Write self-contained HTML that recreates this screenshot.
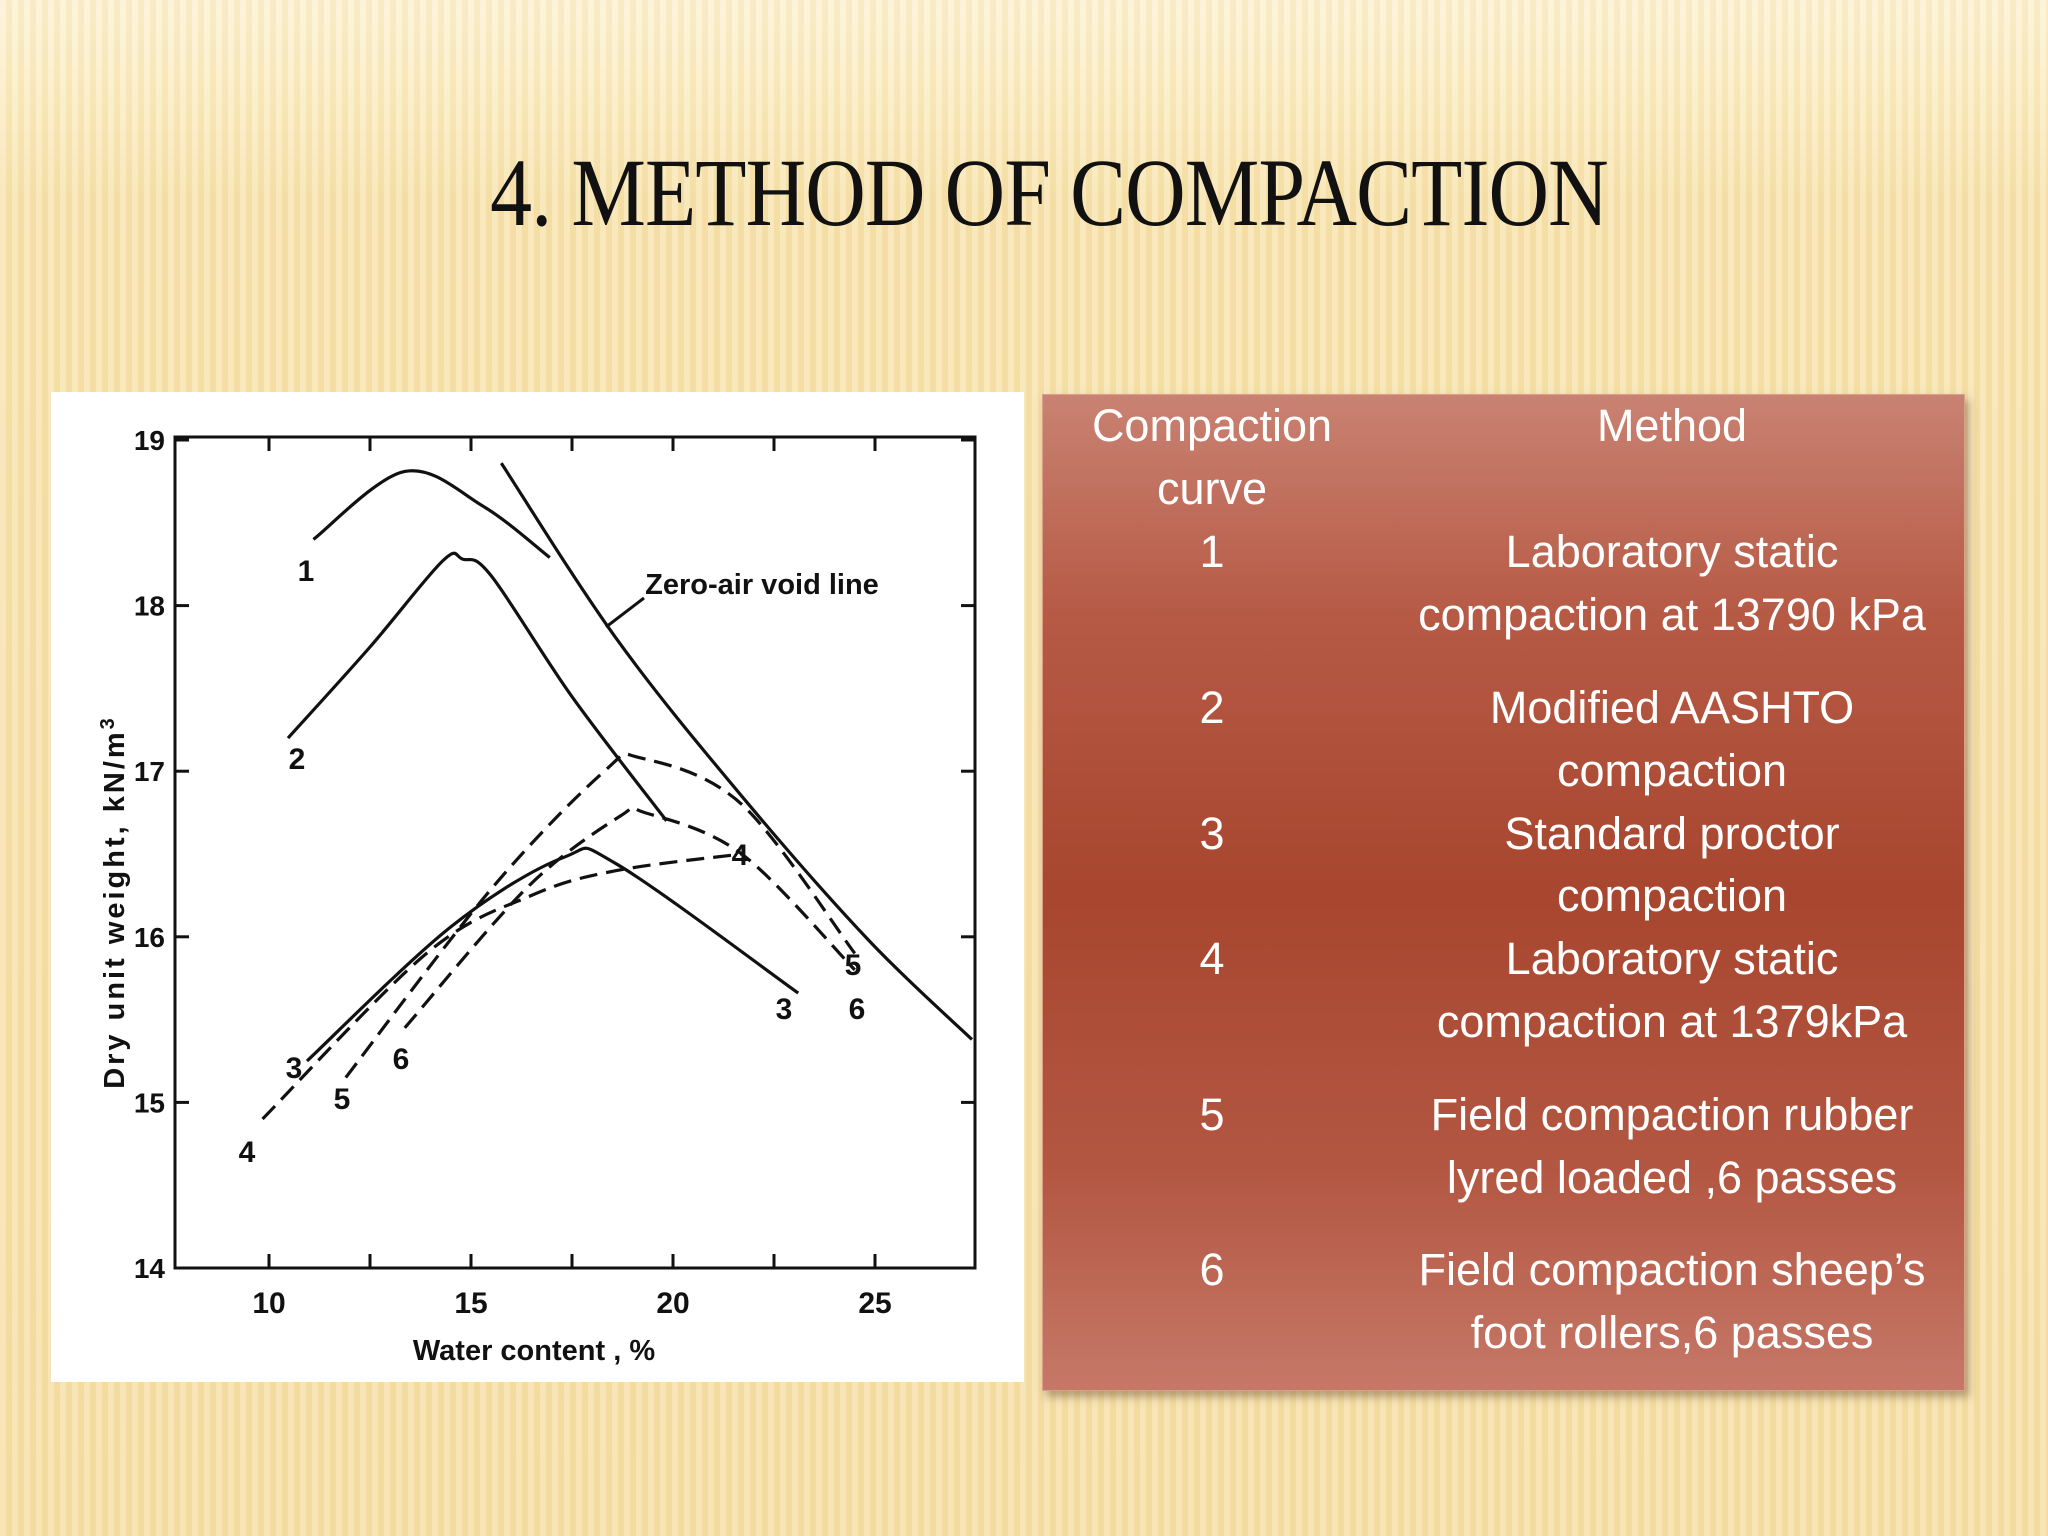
<!DOCTYPE html>
<html><head><meta charset="utf-8"><style>
html,body{margin:0;padding:0;}
body{width:2048px;height:1536px;position:relative;overflow:hidden;font-family:"Liberation Sans",sans-serif;
background:
 repeating-linear-gradient(90deg,rgba(255,255,255,0.18) 0 6px,rgba(220,180,90,0.10) 6px 12px),
 linear-gradient(180deg,#fcf1d2 0,#fbedc4 80px,#f7e3ae 200px,#f6dfa6 100%);}
#title{position:absolute;left:0;width:2098px;top:137px;text-align:center;font-family:"Liberation Serif",serif;font-size:96px;color:#111;transform:scaleX(0.873);transform-origin:1049px 0;letter-spacing:-1px;}
#panel{position:absolute;left:51px;top:392px;width:973px;height:990px;background:#fff;}
#table{position:absolute;left:1042px;top:394px;width:921px;height:995px;
background:linear-gradient(180deg,#c98272 0,#b65a45 22%,#a8462f 50%,#b35742 78%,#c67868 100%);
box-shadow:4px 6px 8px rgba(120,90,60,0.5);border:1px solid #d9a090;color:#fff;font-size:45px;}
#table div{position:absolute;text-align:center;transform:translate(-50%,-50%);white-space:nowrap;}
</style></head><body>
<div id="title">4. METHOD OF COMPACTION</div>
<div id="panel"></div>
<svg id="chart" width="2048" height="1536" style="position:absolute;left:0;top:0" font-family="Liberation Sans, sans-serif"></svg>
<div id="table">
<div style="left:169px;top:31px">Compaction</div>
<div style="left:169px;top:94px">curve</div>
<div style="left:629px;top:31px">Method</div>
<div style="left:169px;top:157px">1</div>
<div style="left:629px;top:157px">Laboratory static</div>
<div style="left:629px;top:220px">compaction at 13790 kPa</div>
<div style="left:169px;top:313px">2</div>
<div style="left:629px;top:313px">Modified AASHTO</div>
<div style="left:629px;top:376px">compaction</div>
<div style="left:169px;top:439px">3</div>
<div style="left:629px;top:439px">Standard proctor</div>
<div style="left:629px;top:501px">compaction</div>
<div style="left:169px;top:564px">4</div>
<div style="left:629px;top:564px">Laboratory static</div>
<div style="left:629px;top:627px">compaction at 1379kPa</div>
<div style="left:169px;top:720px">5</div>
<div style="left:629px;top:720px">Field compaction rubber</div>
<div style="left:629px;top:783px">lyred loaded ,6 passes</div>
<div style="left:169px;top:875px">6</div>
<div style="left:629px;top:875px">Field compaction sheep’s</div>
<div style="left:629px;top:938px">foot rollers,6 passes</div>
</div>
<script>
const xTicks=[10,15,20,25];
const yTicks=[14,15,16,17,18,19];
const curve1X=[11.1,13.36,15.3,16.95];
const curve1Y=[18.4,18.81,18.6,18.29];
const curve2X=[10.47,12.5,14.3,14.8,15.5,17.5,19.84];
const curve2Y=[17.2,17.75,18.27,18.28,18.18,17.45,16.7];
const zavX=[15.75,18.6,21.7,24.84,27.4];
const zavY=[18.86,17.8,16.85,15.98,15.38];
const curve3X=[10.94,14.5,17.3,18.6,23.1];
const curve3Y=[15.25,16.06,16.48,16.44,15.66];
const curve4X=[9.84,13.9,16.5,18.6,21.7];
const curve4Y=[14.9,15.9,16.25,16.4,16.5];
const curve5X=[11.9,15.47,18.3,19.2,21.7,24.5];
const curve5Y=[15.15,16.28,17.0,17.08,16.8,15.9];
const curve6X=[13.36,16.4,18.7,19.3,21.7,24.5];
const curve6Y=[15.45,16.3,16.73,16.75,16.5,15.8];
const X0=175,X1=975,Y0=437,Y1=1268;
const xs=v=>269+(v-10)*40.4;
const ys=v=>440+(19-v)*165.6;
const svg=document.getElementById('chart');
const NS='http://www.w3.org/2000/svg';
function mk(t,a){const e=document.createElementNS(NS,t);for(const k in a)e.setAttribute(k,a[k]);svg.appendChild(e);return e;}
let e=mk('rect',{x:X0,y:Y0,width:X1-X0,height:Y1-Y0,fill:'none',stroke:'#111','stroke-width':3});


xTicks.forEach(v=>{
 const x=xs(v);
 let t=mk('line',{x1:x,y1:Y1,x2:x,y2:Y1-14,stroke:'#111','stroke-width':3});
 
 
 let t2=mk('line',{x1:x,y1:Y0,x2:x,y2:Y0+14,stroke:'#111','stroke-width':3});
 
 
 let l=mk('text',{x:x,y:Y1+45,'text-anchor':'middle','font-size':30,'font-weight':'bold',fill:'#111'});
 l.textContent=v;
 
 
});
[12.5,17.5,22.5].forEach(v=>{
 let t=mk('line',{x1:xs(v),y1:Y1,x2:xs(v),y2:Y1-14,stroke:'#111','stroke-width':3});
 
 
 let t2=mk('line',{x1:xs(v),y1:Y0,x2:xs(v),y2:Y0+14,stroke:'#111','stroke-width':3});
 
 
});
yTicks.forEach(v=>{
 const y=ys(v);
 let t=mk('line',{x1:X0,y1:y,x2:X0+14,y2:y,stroke:'#111','stroke-width':3});
 
 
 let t2=mk('line',{x1:X1,y1:y,x2:X1-14,y2:y,stroke:'#111','stroke-width':3});
 
 
 let l=mk('text',{x:X0-10,y:y+10,'text-anchor':'end','font-size':28,'font-weight':'bold',fill:'#111'});
 l.textContent=v;
 
 
});
function path(X,Y){
 const p=X.map((v,i)=>[xs(v),ys(Y[i])]);
 let d='M'+p[0][0]+','+p[0][1];
 for(let i=0;i<p.length-1;i++){
  const p0=p[i-1]||p[i],p1=p[i],p2=p[i+1],p3=p[i+2]||p2;
  const c1=[p1[0]+(p2[0]-p0[0])/6,p1[1]+(p2[1]-p0[1])/6];
  const c2=[p2[0]-(p3[0]-p1[0])/6,p2[1]-(p3[1]-p1[1])/6];
  d+=' C'+c1+' '+c2+' '+p2;
 }
 return d;
}
const series=[[curve1X,curve1Y,'curve-1',null],[curve2X,curve2Y,'curve-2',null],[zavX,zavY,'zero-air-void-line',null],
[curve3X,curve3Y,'curve-3',null],[curve4X,curve4Y,'curve-4','18 9'],[curve5X,curve5Y,'curve-5','18 9'],[curve6X,curve6Y,'curve-6','18 9']];
series.forEach(s=>{
 const a={d:path(s[0],s[1]),fill:'none',stroke:'#111','stroke-width':3.2};
 if(s[3])a['stroke-dasharray']=s[3];
 const p=mk('path',a);
 
 
});
const labels=[['1',306,581],['2',297,769],['3',294,1078],['4',247,1162],['5',342,1109],['6',401,1069],['3',784,1019],['5',853,975],['6',857,1019],['4',740,865]];
labels.forEach(l=>{
 const t=mk('text',{x:l[1],y:l[2],'text-anchor':'middle','font-size':30,'font-weight':'bold',fill:'#111'});
 t.textContent=l[0];
 
 
});
let z=mk('text',{x:762,y:594,'text-anchor':'middle','font-size':29,'font-weight':'bold',fill:'#111'});
z.textContent='Zero-air void line';


let ld=mk('line',{x1:644,y1:598,x2:606,y2:627,stroke:'#111','stroke-width':3});


let xt=mk('text',{x:534,y:1360,'text-anchor':'middle','font-size':29,'font-weight':'bold',fill:'#111'});
xt.textContent='Water content , %';


let yt=mk('text',{x:0,y:0,'text-anchor':'middle','font-size':29,'font-weight':'bold',fill:'#111','letter-spacing':3,transform:'translate(124,902) rotate(-90)'});
yt.innerHTML='Dry unit weight, kN/m<tspan dy="-10" font-size="20">3</tspan>';


</script>
</body></html>
